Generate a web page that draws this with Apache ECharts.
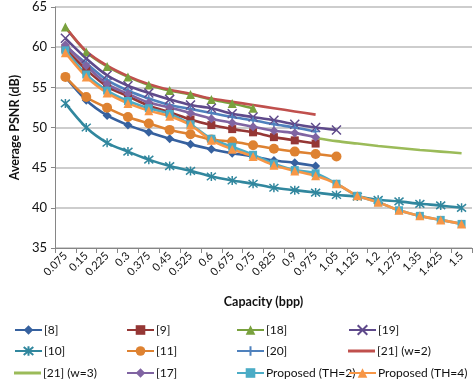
<!DOCTYPE html>
<html><head><meta charset="utf-8">
<script src="https://cdn.jsdelivr.net/npm/echarts@6/dist/echarts.min.js"></script>
<style>html,body{margin:0;padding:0;background:#fff}#c{width:474px;height:382px}</style>
</head><body><div id="c"></div>
<script>
var categories = ['0.075','0.15','0.225','0.3','0.375','0.45','0.525','0.6','0.675','0.75','0.825','0.9','0.975','1.05','1.125','1.2','1.275','1.35','1.425','1.5'];
var yTicks = [35, 40, 45, 50, 55, 60, 65];
var s8   = [56.3,53.4,51.5,50.3,49.4,48.6,47.9,47.3,46.8,46.4,45.9,45.6,45.2];
var s9   = [59.8,57.2,55.1,53.9,52.7,51.9,51.0,50.3,49.8,49.4,48.8,48.4,48.0];
var s18  = [62.5,59.4,57.6,56.3,55.3,54.6,54.1,53.5,53.0,52.4];
var s19  = [61.1,58.6,56.5,55.2,54.3,53.5,52.8,52.4,51.7,51.3,50.9,50.4,50.0,49.7];
var s10  = [53.0,50.0,48.1,47.0,46.0,45.2,44.6,43.9,43.4,43.0,42.5,42.2,41.9,41.6,41.4,41.0,40.8,40.5,40.3,40.0];
var s11  = [56.3,53.8,52.45,51.3,50.5,49.7,49.15,48.5,48.25,47.8,47.35,47.0,46.7,46.4];
var s20  = [60.1,58.0,55.9,54.6,53.6,52.8,52.3,51.8,51.3,50.9,50.4,50.0,49.5];
var s21w2 = [62.5,59.5,57.7,56.4,55.4,54.7,54.2,53.6,53.2,52.8,52.4,52.0,51.6];
var s21w3 = [null,null,null,null,null,null,null,null,null,null,null,null,48.7,48.3,48.0,47.7,47.45,47.2,47.0,46.8];
var s17  = [60.3,57.7,55.4,54.2,53.1,52.5,51.8,51.1,50.6,50.1,49.6,49.3,48.8];
var th2  = [59.6,56.6,54.6,53.3,52.4,51.7,50.4,48.6,47.6,46.6,45.5,44.7,44.3,43.0,41.5,40.7,39.7,39.0,38.5,38.0];
var th4  = [59.3,56.3,54.3,53.0,52.1,51.4,50.3,48.4,47.3,46.4,45.3,44.6,44.0,43.0,41.5,40.7,39.7,39.0,38.5,38.0];
var legendRows = [
  ['[8]', '[9]', '[18]', '[19]'],
  ['[10]', '[11]', '[20]', '[21] (w=2)'],
  ['[21] (w=3)', '[17]', 'Proposed (TH=2)', 'Proposed (TH=4)']
];

var X_PATH = 'path://M0,0L10,10M10,0L0,10';
var STAR_PATH = 'path://M0,0L10,10M10,0L0,10M5,-1L5,11';
var PLUS_PATH = 'path://M5,0L5,10M0,5L10,5';
var FONT = 'Lato';

function mk(name, data, color, symbol, size, stroke) {
  var s = {
    name: name, type: 'line', data: data, smooth: 0.3,
    symbol: symbol, symbolSize: size, showSymbol: symbol !== 'none',
    lineStyle: {width: 2.6, color: color},
    itemStyle: {color: color},
    emphasis: {disabled: true},
    connectNulls: false
  };
  if (stroke) { s.itemStyle.borderColor = color; s.itemStyle.borderWidth = 1.5; }
  return s;
}

var series = [
  mk('[8]', s8, '#36619F', 'diamond', 9),
  mk('[9]', s9, '#953735', 'rect', 8),
  mk('[18]', s18, '#79A13E', 'triangle', 9),
  mk('[19]', s19, '#5F4A8B', X_PATH, 9, true),
  mk('[10]', s10, '#31879E', STAR_PATH, 9, true),
  mk('[11]', s11, '#DE8231', 'circle', 10),
  mk('[20]', s20, '#4F81BD', PLUS_PATH, 7, true),
  mk('[21] (w=2)', s21w2, '#C0504D', 'none', 0),
  mk('[21] (w=3)', s21w3, '#9BBB59', 'none', 0),
  mk('[17]', s17, '#8064A2', 'diamond', 9),
  mk('Proposed (TH=2)', th2, '#4BACC6', 'rect', 8),
  mk('Proposed (TH=4)', th4, '#F79646', 'triangle', 9)
];
var noMarker = {'[21] (w=2)': true, '[21] (w=3)': true};

var colLeft = [14, 126, 236, 348];
var rowTop = [324, 345, 367];
var legends = [];
legendRows.forEach(function (row, r) {
  row.forEach(function (name, c) {
    var plain = noMarker[name];
    var l = {
      orient: 'horizontal', left: colLeft[c], top: rowTop[r], padding: 0,
      itemWidth: 27, itemHeight: plain ? 3 : 12, data: [name], selectedMode: false,
      textStyle: {fontFamily: FONT, fontSize: 12, color: '#111', padding: [0, 0, 0, -3]}
    };
    if (plain) l.icon = 'rect';
    legends.push(l);
  });
});

var chart = echarts.init(document.getElementById('c'), null, {renderer: 'canvas'});
chart.setOption({
  animation: false,
  backgroundColor: '#fff',
  grid: {left: 40, right: 2, top: 7, bottom: 134, containLabel: false},
  legend: legends,
  xAxis: {
    type: 'category', data: categories, boundaryGap: true,
    name: 'Capacity (bpp)', nameLocation: 'middle', nameGap: 47,
    nameTextStyle: {fontFamily: FONT, fontWeight: 'bold', fontSize: 12.5, color: '#111'},
    axisLine: {lineStyle: {color: '#868686', width: 1}},
    axisTick: {show: true, length: 5, lineStyle: {color: '#868686'}},
    axisLabel: {rotate: 45, fontFamily: FONT, fontSize: 11, color: '#111', margin: 6, interval: 0},
    splitLine: {show: false}
  },
  yAxis: {
    type: 'value', min: yTicks[0], max: yTicks[yTicks.length - 1], interval: 5,
    name: 'Average PSNR (dB)', nameLocation: 'middle', nameGap: 31, nameRotate: 90,
    nameTextStyle: {fontFamily: FONT, fontWeight: 'bold', fontSize: 12.5, color: '#111'},
    axisLine: {show: true, lineStyle: {color: '#868686', width: 1}},
    axisTick: {show: true, length: 4, lineStyle: {color: '#868686'}},
    axisLabel: {fontFamily: FONT, fontSize: 13, color: '#111', margin: 8},
    splitLine: {show: true, lineStyle: {color: '#BDBDBD', width: 1.5}}
  },
  series: series
});
</script></body></html>
